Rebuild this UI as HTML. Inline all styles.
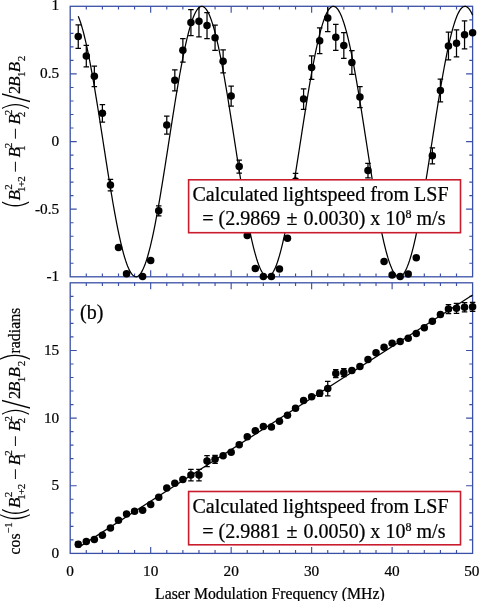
<!DOCTYPE html>
<html><head><meta charset="utf-8"><title>Lightspeed plot</title>
<style>
html,body{margin:0;padding:0;background:#fff;}
body{width:480px;height:601px;position:relative;overflow:hidden;font-family:"Liberation Serif",serif;color:#000;-webkit-text-stroke:0.22px #000;}
svg text{stroke:#000;stroke-width:0.2px;}
svg text.ns{stroke:none;}
.yt{position:absolute;left:0;width:59.2px;text-align:right;font-size:15.3px;line-height:20px;height:20px;margin-top:-0.5px;}
.xt{position:absolute;top:561px;width:40px;text-align:center;font-size:15.3px;line-height:20px;}
.xl{position:absolute;left:68.4px;width:403px;top:583.6px;text-align:center;font-size:15.75px;line-height:20px;white-space:nowrap;}
.box{position:absolute;left:187.7px;width:273.6px;height:54px;font-size:20px;line-height:24px;white-space:nowrap;}
.box div{position:absolute;}
.box .l1{left:4.8px;top:2.7px;}
.box .l2{left:14.5px;top:27.2px;letter-spacing:0.02px;}
.box .pm{margin:0 1px 0 1.2px;}
.box sup{font-size:12px;line-height:0;vertical-align:7px;}
.plabel{position:absolute;left:80px;top:300px;font-size:20px;line-height:24px;}
</style></head><body>
<svg width="480" height="601" viewBox="0 0 480 601" style="position:absolute;left:0;top:0">
<rect x="70.2" y="6.3" width="402.40000000000003" height="270.5" fill="none" stroke="#3a50a7" stroke-width="1.3"/>
<path d="M86.30 6.3v3.3M86.30 276.8v-3.3M102.39 6.3v3.3M102.39 276.8v-3.3M118.49 6.3v3.3M118.49 276.8v-3.3M134.58 6.3v3.3M134.58 276.8v-3.3M150.68 6.3v6.5M150.68 276.8v-6.5M166.78 6.3v3.3M166.78 276.8v-3.3M182.87 6.3v3.3M182.87 276.8v-3.3M198.97 6.3v3.3M198.97 276.8v-3.3M215.06 6.3v3.3M215.06 276.8v-3.3M231.16 6.3v6.5M231.16 276.8v-6.5M247.26 6.3v3.3M247.26 276.8v-3.3M263.35 6.3v3.3M263.35 276.8v-3.3M279.45 6.3v3.3M279.45 276.8v-3.3M295.54 6.3v3.3M295.54 276.8v-3.3M311.64 6.3v6.5M311.64 276.8v-6.5M327.74 6.3v3.3M327.74 276.8v-3.3M343.83 6.3v3.3M343.83 276.8v-3.3M359.93 6.3v3.3M359.93 276.8v-3.3M376.02 6.3v3.3M376.02 276.8v-3.3M392.12 6.3v6.5M392.12 276.8v-6.5M408.22 6.3v3.3M408.22 276.8v-3.3M424.31 6.3v3.3M424.31 276.8v-3.3M440.41 6.3v3.3M440.41 276.8v-3.3M456.50 6.3v3.3M456.50 276.8v-3.3M70.2 19.82h3.3M472.6 19.82h-3.3M70.2 33.35h3.3M472.6 33.35h-3.3M70.2 46.88h3.3M472.6 46.88h-3.3M70.2 60.40h3.3M472.6 60.40h-3.3M70.2 73.92h6.5M472.6 73.92h-6.5M70.2 87.45h3.3M472.6 87.45h-3.3M70.2 100.97h3.3M472.6 100.97h-3.3M70.2 114.50h3.3M472.6 114.50h-3.3M70.2 128.03h3.3M472.6 128.03h-3.3M70.2 141.55h6.5M472.6 141.55h-6.5M70.2 155.08h3.3M472.6 155.08h-3.3M70.2 168.60h3.3M472.6 168.60h-3.3M70.2 182.12h3.3M472.6 182.12h-3.3M70.2 195.65h3.3M472.6 195.65h-3.3M70.2 209.18h6.5M472.6 209.18h-6.5M70.2 222.70h3.3M472.6 222.70h-3.3M70.2 236.23h3.3M472.6 236.23h-3.3M70.2 249.75h3.3M472.6 249.75h-3.3M70.2 263.28h3.3M472.6 263.28h-3.3" stroke="#3a50a7" stroke-width="1.15" fill="none"/>
<polyline points="78.25,16.16 79.23,18.69 80.22,21.49 81.21,24.55 82.19,27.87 83.18,31.45 84.16,35.27 85.15,39.32 86.14,43.60 87.12,48.10 88.11,52.80 89.09,57.70 90.08,62.79 91.06,68.05 92.05,73.48 93.04,79.05 94.02,84.76 95.01,90.60 95.99,96.56 96.98,102.61 97.97,108.75 98.95,114.96 99.94,121.23 100.92,127.54 101.91,133.89 102.90,140.25 103.88,146.62 104.87,152.97 105.85,159.30 106.84,165.59 107.82,171.83 108.81,178.00 109.80,184.09 110.78,190.08 111.77,195.97 112.75,201.73 113.74,207.37 114.73,212.85 115.71,218.18 116.70,223.34 117.68,228.32 118.67,233.11 119.65,237.69 120.64,242.06 121.63,246.21 122.61,250.12 123.60,253.80 124.58,257.22 125.57,260.39 126.56,263.30 127.54,265.94 128.53,268.30 129.51,270.38 130.50,272.17 131.49,273.68 132.47,274.89 133.46,275.81 134.44,276.43 135.43,276.75 136.41,276.77 137.40,276.49 138.39,275.92 139.37,275.04 140.36,273.87 141.34,272.41 142.33,270.65 143.32,268.61 144.30,266.29 145.29,263.69 146.27,260.83 147.26,257.69 148.25,254.30 149.23,250.66 150.22,246.78 151.20,242.67 152.19,238.33 153.17,233.77 154.16,229.02 155.15,224.07 156.13,218.93 157.12,213.63 158.10,208.16 159.09,202.55 160.08,196.80 161.06,190.93 162.05,184.95 163.03,178.87 164.02,172.71 165.01,166.48 165.99,160.20 166.98,153.88 167.96,147.53 168.95,141.16 169.93,134.80 170.92,128.45 171.91,122.13 172.89,115.85 173.88,109.63 174.86,103.48 175.85,97.41 176.84,91.45 177.82,85.59 178.81,79.86 179.79,74.26 180.78,68.82 181.77,63.53 182.75,58.42 183.74,53.49 184.72,48.76 185.71,44.23 186.69,39.92 187.68,35.83 188.67,31.98 189.65,28.37 190.64,25.01 191.62,21.91 192.61,19.07 193.60,16.51 194.58,14.22 195.57,12.22 196.55,10.50 197.54,9.07 198.53,7.93 199.51,7.10 200.50,6.56 201.48,6.31 202.47,6.37 203.45,6.73 204.44,7.39 205.43,8.34 206.41,9.59 207.40,11.13 208.38,12.96 209.37,15.07 210.36,17.47 211.34,20.14 212.33,23.08 213.31,26.28 214.30,29.74 215.29,33.44 216.27,37.39 217.26,41.56 218.24,45.96 219.23,50.57 220.21,55.38 221.20,60.38 222.19,65.56 223.17,70.91 224.16,76.42 225.14,82.07 226.13,87.85 227.12,93.75 228.10,99.76 229.09,105.85 230.07,112.03 231.06,118.28 232.05,124.57 233.03,130.91 234.02,137.26 235.00,143.63 235.99,149.99 236.97,156.33 237.96,162.64 238.95,168.91 239.93,175.11 240.92,181.24 241.90,187.28 242.89,193.22 243.88,199.04 244.86,204.74 245.85,210.30 246.83,215.70 247.82,220.94 248.81,226.01 249.79,230.89 250.78,235.56 251.76,240.04 252.75,244.29 253.73,248.31 254.72,252.10 255.71,255.65 256.69,258.94 257.68,261.97 258.66,264.73 259.65,267.23 260.64,269.44 261.62,271.37 262.61,273.01 263.59,274.36 264.58,275.42 265.57,276.18 266.55,276.64 267.54,276.80 268.52,276.66 269.51,276.23 270.49,275.49 271.48,274.46 272.47,273.13 273.45,271.51 274.44,269.61 275.42,267.42 276.41,264.95 277.40,262.21 278.38,259.20 279.37,255.93 280.35,252.40 281.34,248.63 282.33,244.63 283.31,240.39 284.30,235.94 285.28,231.27 286.27,226.41 287.25,221.36 288.24,216.14 289.23,210.74 290.21,205.20 291.20,199.51 292.18,193.70 293.17,187.77 294.16,181.73 295.14,175.61 296.13,169.42 297.11,163.16 298.10,156.85 299.09,150.51 300.07,144.15 301.06,137.78 302.04,131.42 303.03,125.09 304.01,118.79 305.00,112.54 305.99,106.36 306.97,100.25 307.96,94.24 308.94,88.33 309.93,82.53 310.92,76.87 311.90,71.35 312.89,65.99 313.87,60.80 314.86,55.78 315.85,50.95 316.83,46.33 317.82,41.91 318.80,37.72 319.79,33.76 320.77,30.03 321.76,26.55 322.75,23.33 323.73,20.37 324.72,17.68 325.70,15.26 326.69,13.12 327.68,11.27 328.66,9.70 329.65,8.43 330.63,7.45 331.62,6.77 332.61,6.39 333.59,6.31 334.58,6.52 335.56,7.04 336.55,7.86 337.53,8.97 338.52,10.37 339.51,12.07 340.49,14.05 341.48,16.31 342.46,18.85 343.45,21.67 344.44,24.75 345.42,28.08 346.41,31.67 347.39,35.51 348.38,39.58 349.37,43.87 350.35,48.38 351.34,53.10 352.32,58.01 353.31,63.11 354.29,68.38 355.28,73.81 356.27,79.40 357.25,85.12 358.24,90.96 359.22,96.92 360.21,102.98 361.20,109.12 362.18,115.34 363.17,121.61 364.15,127.93 365.14,134.28 366.12,140.64 367.11,147.01 368.10,153.36 369.08,159.69 370.07,165.97 371.05,172.21 372.04,178.37 373.03,184.46 374.01,190.44 375.00,196.32 375.98,202.08 376.97,207.71 377.96,213.18 378.94,218.50 379.93,223.65 380.91,228.62 381.90,233.39 382.88,237.96 383.87,242.32 384.86,246.45 385.84,250.36 386.83,254.02 387.81,257.43 388.80,260.58 389.79,263.47 390.77,266.09 391.76,268.43 392.74,270.50 393.73,272.28 394.72,273.76 395.70,274.96 396.69,275.86 397.67,276.46 398.66,276.76 399.64,276.76 400.63,276.47 401.62,275.87 402.60,274.98 403.59,273.79 404.57,272.31 405.56,270.54 406.55,268.48 407.53,266.14 408.52,263.53 409.50,260.64 410.49,257.49 411.48,254.09 412.46,250.43 413.45,246.54 414.43,242.41 415.42,238.06 416.40,233.49 417.39,228.72 418.38,223.76 419.36,218.61 420.35,213.30 421.33,207.82 422.32,202.20 423.31,196.44 424.29,190.56 425.28,184.58 426.26,178.50 427.25,172.33 428.24,166.10 429.22,159.82 430.21,153.49 431.19,147.14 432.18,140.77 433.16,134.41 434.15,128.06 435.14,121.74 436.12,115.47 437.11,109.25 438.09,103.11 439.08,97.05 440.07,91.09 441.05,85.24 442.04,79.51 443.02,73.93 444.01,68.49 445.00,63.21 445.98,58.11 446.97,53.19 447.95,48.47 448.94,43.96 449.92,39.66 450.91,35.59 451.90,31.75 452.88,28.16 453.87,24.81 454.85,21.73 455.84,18.91 456.83,16.36 457.81,14.09 458.80,12.10 459.78,10.40 460.77,8.99 461.76,7.87 462.74,7.05 463.73,6.53 464.71,6.31 465.70,6.39 466.68,6.76 467.67,7.44 468.66,8.41 469.64,9.67 470.63,11.23 471.61,13.08 472.60,15.21" fill="none" stroke="#000" stroke-width="1.25"/>
<path d="M78.25 24.75V48.25M75.50 24.75H81.00M75.50 48.25H81.00" stroke="#000" stroke-width="1.25" fill="none"/>
<circle cx="78.25" cy="36.50" r="3.75" fill="#000"/>
<path d="M86.30 45.25V66.75M83.55 45.25H89.05M83.55 66.75H89.05" stroke="#000" stroke-width="1.25" fill="none"/>
<circle cx="86.30" cy="56.00" r="3.75" fill="#000"/>
<path d="M94.34 66.00V86.50M91.59 66.00H97.09M91.59 86.50H97.09" stroke="#000" stroke-width="1.25" fill="none"/>
<circle cx="94.34" cy="76.25" r="3.75" fill="#000"/>
<path d="M102.39 104.50V122.00M99.64 104.50H105.14M99.64 122.00H105.14" stroke="#000" stroke-width="1.25" fill="none"/>
<circle cx="102.39" cy="113.25" r="3.75" fill="#000"/>
<path d="M110.44 179.25V190.75M107.69 179.25H113.19M107.69 190.75H113.19" stroke="#000" stroke-width="1.25" fill="none"/>
<circle cx="110.44" cy="185.00" r="3.75" fill="#000"/>
<circle cx="118.49" cy="247.50" r="3.75" fill="#000"/>
<circle cx="126.54" cy="273.75" r="3.75" fill="#000"/>
<circle cx="142.63" cy="276.50" r="3.75" fill="#000"/>
<circle cx="150.68" cy="260.50" r="3.75" fill="#000"/>
<path d="M158.73 205.75V215.75M155.98 205.75H161.48M155.98 215.75H161.48" stroke="#000" stroke-width="1.25" fill="none"/>
<circle cx="158.73" cy="210.75" r="3.75" fill="#000"/>
<path d="M166.78 116.00V134.00M164.03 116.00H169.53M164.03 134.00H169.53" stroke="#000" stroke-width="1.25" fill="none"/>
<circle cx="166.78" cy="125.00" r="3.75" fill="#000"/>
<path d="M174.82 69.75V90.75M172.07 69.75H177.57M172.07 90.75H177.57" stroke="#000" stroke-width="1.25" fill="none"/>
<circle cx="174.82" cy="80.25" r="3.75" fill="#000"/>
<path d="M182.87 38.50V62.00M180.12 38.50H185.62M180.12 62.00H185.62" stroke="#000" stroke-width="1.25" fill="none"/>
<circle cx="182.87" cy="50.25" r="3.75" fill="#000"/>
<path d="M190.92 9.50V35.50M188.17 9.50H193.67M188.17 35.50H193.67" stroke="#000" stroke-width="1.25" fill="none"/>
<circle cx="190.92" cy="22.50" r="3.75" fill="#000"/>
<path d="M198.97 6.90V36.75M196.22 36.75H201.72" stroke="#000" stroke-width="1.25" fill="none"/>
<circle cx="198.97" cy="21.25" r="3.75" fill="#000"/>
<path d="M207.02 12.50V38.50M204.27 12.50H209.77M204.27 38.50H209.77" stroke="#000" stroke-width="1.25" fill="none"/>
<circle cx="207.02" cy="25.50" r="3.75" fill="#000"/>
<path d="M215.06 25.15V50.35M212.31 25.15H217.81M212.31 50.35H217.81" stroke="#000" stroke-width="1.25" fill="none"/>
<circle cx="215.06" cy="37.75" r="3.75" fill="#000"/>
<path d="M223.11 49.75V72.75M220.36 49.75H225.86M220.36 72.75H225.86" stroke="#000" stroke-width="1.25" fill="none"/>
<circle cx="223.11" cy="61.25" r="3.75" fill="#000"/>
<path d="M231.16 86.00V106.00M228.41 86.00H233.91M228.41 106.00H233.91" stroke="#000" stroke-width="1.25" fill="none"/>
<circle cx="231.16" cy="96.00" r="3.75" fill="#000"/>
<path d="M239.21 160.00V173.00M236.46 160.00H241.96M236.46 173.00H241.96" stroke="#000" stroke-width="1.25" fill="none"/>
<circle cx="239.21" cy="166.50" r="3.75" fill="#000"/>
<circle cx="247.26" cy="235.50" r="3.75" fill="#000"/>
<circle cx="255.30" cy="268.50" r="3.75" fill="#000"/>
<circle cx="263.35" cy="276.50" r="3.75" fill="#000"/>
<circle cx="271.40" cy="276.50" r="3.75" fill="#000"/>
<circle cx="279.45" cy="269.00" r="3.75" fill="#000"/>
<circle cx="287.50" cy="238.25" r="3.75" fill="#000"/>
<path d="M295.54 173.30V188.70M292.79 173.30H298.29M292.79 188.70H298.29" stroke="#000" stroke-width="1.25" fill="none"/>
<circle cx="295.54" cy="181.00" r="3.75" fill="#000"/>
<path d="M303.59 88.75V109.25M300.84 88.75H306.34M300.84 109.25H306.34" stroke="#000" stroke-width="1.25" fill="none"/>
<circle cx="303.59" cy="99.00" r="3.75" fill="#000"/>
<path d="M311.64 55.75V79.25M308.89 55.75H314.39M308.89 79.25H314.39" stroke="#000" stroke-width="1.25" fill="none"/>
<circle cx="311.64" cy="67.50" r="3.75" fill="#000"/>
<path d="M319.69 27.85V53.65M316.94 27.85H322.44M316.94 53.65H322.44" stroke="#000" stroke-width="1.25" fill="none"/>
<circle cx="319.69" cy="40.75" r="3.75" fill="#000"/>
<path d="M327.74 6.90V31.50M324.99 31.50H330.49" stroke="#000" stroke-width="1.25" fill="none"/>
<circle cx="327.74" cy="18.00" r="3.75" fill="#000"/>
<path d="M335.78 24.25V50.25M333.03 24.25H338.53M333.03 50.25H338.53" stroke="#000" stroke-width="1.25" fill="none"/>
<circle cx="335.78" cy="37.25" r="3.75" fill="#000"/>
<path d="M343.83 32.60V58.40M341.08 32.60H346.58M341.08 58.40H346.58" stroke="#000" stroke-width="1.25" fill="none"/>
<circle cx="343.83" cy="45.50" r="3.75" fill="#000"/>
<path d="M351.88 50.60V74.40M349.13 50.60H354.63M349.13 74.40H354.63" stroke="#000" stroke-width="1.25" fill="none"/>
<circle cx="351.88" cy="62.50" r="3.75" fill="#000"/>
<path d="M359.93 86.50V107.50M357.18 86.50H362.68M357.18 107.50H362.68" stroke="#000" stroke-width="1.25" fill="none"/>
<circle cx="359.93" cy="97.00" r="3.75" fill="#000"/>
<path d="M367.98 163.25V177.75M365.23 163.25H370.73M365.23 177.75H370.73" stroke="#000" stroke-width="1.25" fill="none"/>
<circle cx="367.98" cy="170.50" r="3.75" fill="#000"/>
<path d="M376.02 211.00V219.00M373.27 211.00H378.77M373.27 219.00H378.77" stroke="#000" stroke-width="1.25" fill="none"/>
<circle cx="376.02" cy="215.00" r="3.75" fill="#000"/>
<circle cx="384.07" cy="261.50" r="3.75" fill="#000"/>
<circle cx="392.12" cy="275.00" r="3.75" fill="#000"/>
<circle cx="400.17" cy="276.50" r="3.75" fill="#000"/>
<circle cx="408.22" cy="274.00" r="3.75" fill="#000"/>
<circle cx="416.26" cy="257.75" r="3.75" fill="#000"/>
<path d="M424.31 200.00V210.00M421.56 200.00H427.06M421.56 210.00H427.06" stroke="#000" stroke-width="1.25" fill="none"/>
<circle cx="424.31" cy="205.00" r="3.75" fill="#000"/>
<path d="M432.36 147.75V163.75M429.61 147.75H435.11M429.61 163.75H435.11" stroke="#000" stroke-width="1.25" fill="none"/>
<circle cx="432.36" cy="155.75" r="3.75" fill="#000"/>
<path d="M440.41 79.10V101.90M437.66 79.10H443.16M437.66 101.90H443.16" stroke="#000" stroke-width="1.25" fill="none"/>
<circle cx="440.41" cy="90.50" r="3.75" fill="#000"/>
<path d="M448.46 32.10V59.90M445.71 32.10H451.21M445.71 59.90H451.21" stroke="#000" stroke-width="1.25" fill="none"/>
<circle cx="448.46" cy="46.00" r="3.75" fill="#000"/>
<path d="M456.50 29.75V56.75M453.75 29.75H459.25M453.75 56.75H459.25" stroke="#000" stroke-width="1.25" fill="none"/>
<circle cx="456.50" cy="43.25" r="3.75" fill="#000"/>
<path d="M464.55 20.75V48.75M461.80 20.75H467.30M461.80 48.75H467.30" stroke="#000" stroke-width="1.25" fill="none"/>
<circle cx="464.55" cy="34.75" r="3.75" fill="#000"/>
<circle cx="472.60" cy="32.75" r="3.75" fill="#000"/>
<rect x="70.2" y="282.8" width="402.40000000000003" height="270.59999999999997" fill="none" stroke="#3a50a7" stroke-width="1.3"/>
<path d="M86.30 282.8v3.3M86.30 553.4v-3.3M102.39 282.8v3.3M102.39 553.4v-3.3M118.49 282.8v3.3M118.49 553.4v-3.3M134.58 282.8v3.3M134.58 553.4v-3.3M150.68 282.8v6.5M150.68 553.4v-6.5M166.78 282.8v3.3M166.78 553.4v-3.3M182.87 282.8v3.3M182.87 553.4v-3.3M198.97 282.8v3.3M198.97 553.4v-3.3M215.06 282.8v3.3M215.06 553.4v-3.3M231.16 282.8v6.5M231.16 553.4v-6.5M247.26 282.8v3.3M247.26 553.4v-3.3M263.35 282.8v3.3M263.35 553.4v-3.3M279.45 282.8v3.3M279.45 553.4v-3.3M295.54 282.8v3.3M295.54 553.4v-3.3M311.64 282.8v6.5M311.64 553.4v-6.5M327.74 282.8v3.3M327.74 553.4v-3.3M343.83 282.8v3.3M343.83 553.4v-3.3M359.93 282.8v3.3M359.93 553.4v-3.3M376.02 282.8v3.3M376.02 553.4v-3.3M392.12 282.8v6.5M392.12 553.4v-6.5M408.22 282.8v3.3M408.22 553.4v-3.3M424.31 282.8v3.3M424.31 553.4v-3.3M440.41 282.8v3.3M440.41 553.4v-3.3M456.50 282.8v3.3M456.50 553.4v-3.3M70.2 296.33h3.3M472.6 296.33h-3.3M70.2 309.86h3.3M472.6 309.86h-3.3M70.2 323.39h3.3M472.6 323.39h-3.3M70.2 336.92h3.3M472.6 336.92h-3.3M70.2 350.45h6.5M472.6 350.45h-6.5M70.2 363.98h3.3M472.6 363.98h-3.3M70.2 377.51h3.3M472.6 377.51h-3.3M70.2 391.04h3.3M472.6 391.04h-3.3M70.2 404.57h3.3M472.6 404.57h-3.3M70.2 418.10h6.5M472.6 418.10h-6.5M70.2 431.63h3.3M472.6 431.63h-3.3M70.2 445.16h3.3M472.6 445.16h-3.3M70.2 458.69h3.3M472.6 458.69h-3.3M70.2 472.22h3.3M472.6 472.22h-3.3M70.2 485.75h6.5M472.6 485.75h-6.5M70.2 499.28h3.3M472.6 499.28h-3.3M70.2 512.81h3.3M472.6 512.81h-3.3M70.2 526.34h3.3M472.6 526.34h-3.3M70.2 539.87h3.3M472.6 539.87h-3.3" stroke="#3a50a7" stroke-width="1.15" fill="none"/>
<line x1="78.25" y1="547.6" x2="472.60" y2="295" stroke="#000" stroke-width="1.25"/>
<path d="M78.25 541.75V546.75M75.50 541.75H81.00M75.50 546.75H81.00" stroke="#000" stroke-width="1.25" fill="none"/>
<circle cx="78.25" cy="544.25" r="3.75" fill="#000"/>
<circle cx="86.30" cy="541.50" r="3.75" fill="#000"/>
<circle cx="94.34" cy="539.50" r="3.75" fill="#000"/>
<circle cx="102.39" cy="535.25" r="3.75" fill="#000"/>
<circle cx="110.44" cy="528.00" r="3.75" fill="#000"/>
<circle cx="118.49" cy="520.25" r="3.75" fill="#000"/>
<circle cx="126.54" cy="514.00" r="3.75" fill="#000"/>
<circle cx="134.58" cy="511.25" r="3.75" fill="#000"/>
<circle cx="142.63" cy="510.25" r="3.75" fill="#000"/>
<circle cx="150.68" cy="504.50" r="3.75" fill="#000"/>
<circle cx="158.73" cy="497.25" r="3.75" fill="#000"/>
<circle cx="166.78" cy="488.00" r="3.75" fill="#000"/>
<circle cx="174.82" cy="483.25" r="3.75" fill="#000"/>
<circle cx="182.87" cy="479.50" r="3.75" fill="#000"/>
<path d="M190.92 469.25V480.75M188.17 469.25H193.67M188.17 480.75H193.67" stroke="#000" stroke-width="1.25" fill="none"/>
<circle cx="190.92" cy="475.00" r="3.75" fill="#000"/>
<path d="M198.97 469.25V480.75M196.22 469.25H201.72M196.22 480.75H201.72" stroke="#000" stroke-width="1.25" fill="none"/>
<circle cx="198.97" cy="475.00" r="3.75" fill="#000"/>
<path d="M207.02 455.50V466.50M204.27 455.50H209.77M204.27 466.50H209.77" stroke="#000" stroke-width="1.25" fill="none"/>
<circle cx="207.02" cy="461.00" r="3.75" fill="#000"/>
<path d="M215.06 455.25V463.25M212.31 455.25H217.81M212.31 463.25H217.81" stroke="#000" stroke-width="1.25" fill="none"/>
<circle cx="215.06" cy="459.25" r="3.75" fill="#000"/>
<circle cx="223.11" cy="455.75" r="3.75" fill="#000"/>
<circle cx="231.16" cy="452.25" r="3.75" fill="#000"/>
<circle cx="239.21" cy="444.75" r="3.75" fill="#000"/>
<circle cx="247.26" cy="436.75" r="3.75" fill="#000"/>
<circle cx="255.30" cy="430.75" r="3.75" fill="#000"/>
<circle cx="263.35" cy="426.60" r="3.75" fill="#000"/>
<circle cx="271.40" cy="426.90" r="3.75" fill="#000"/>
<circle cx="279.45" cy="421.30" r="3.75" fill="#000"/>
<circle cx="287.50" cy="415.25" r="3.75" fill="#000"/>
<circle cx="295.54" cy="408.25" r="3.75" fill="#000"/>
<circle cx="303.59" cy="400.50" r="3.75" fill="#000"/>
<circle cx="311.64" cy="396.75" r="3.75" fill="#000"/>
<path d="M319.69 390.25V396.25M316.94 390.25H322.44M316.94 396.25H322.44" stroke="#000" stroke-width="1.25" fill="none"/>
<circle cx="319.69" cy="393.25" r="3.75" fill="#000"/>
<path d="M327.74 381.25V395.75M324.99 381.25H330.49M324.99 395.75H330.49" stroke="#000" stroke-width="1.25" fill="none"/>
<circle cx="327.74" cy="388.50" r="3.75" fill="#000"/>
<path d="M335.78 369.50V377.50M333.03 369.50H338.53M333.03 377.50H338.53" stroke="#000" stroke-width="1.25" fill="none"/>
<circle cx="335.78" cy="373.50" r="3.75" fill="#000"/>
<path d="M343.83 368.50V376.50M341.08 368.50H346.58M341.08 376.50H346.58" stroke="#000" stroke-width="1.25" fill="none"/>
<circle cx="343.83" cy="372.50" r="3.75" fill="#000"/>
<circle cx="351.88" cy="370.50" r="3.75" fill="#000"/>
<circle cx="359.93" cy="366.50" r="3.75" fill="#000"/>
<circle cx="367.98" cy="359.40" r="3.75" fill="#000"/>
<circle cx="376.02" cy="352.75" r="3.75" fill="#000"/>
<circle cx="384.07" cy="347.25" r="3.75" fill="#000"/>
<circle cx="392.12" cy="343.25" r="3.75" fill="#000"/>
<circle cx="400.17" cy="341.50" r="3.75" fill="#000"/>
<circle cx="408.22" cy="338.25" r="3.75" fill="#000"/>
<circle cx="416.26" cy="333.50" r="3.75" fill="#000"/>
<circle cx="424.31" cy="327.75" r="3.75" fill="#000"/>
<circle cx="432.36" cy="321.25" r="3.75" fill="#000"/>
<circle cx="440.41" cy="314.50" r="3.75" fill="#000"/>
<path d="M448.46 304.50V313.50M445.71 304.50H451.21M445.71 313.50H451.21" stroke="#000" stroke-width="1.25" fill="none"/>
<circle cx="448.46" cy="309.00" r="3.75" fill="#000"/>
<path d="M456.50 303.25V313.25M453.75 303.25H459.25M453.75 313.25H459.25" stroke="#000" stroke-width="1.25" fill="none"/>
<circle cx="456.50" cy="308.25" r="3.75" fill="#000"/>
<path d="M464.55 302.55V311.95M461.80 302.55H467.30M461.80 311.95H467.30" stroke="#000" stroke-width="1.25" fill="none"/>
<circle cx="464.55" cy="307.25" r="3.75" fill="#000"/>
<path d="M472.60 302.25V311.25M469.85 302.25H475.35M469.85 311.25H475.35" stroke="#000" stroke-width="1.25" fill="none"/>
<circle cx="472.60" cy="306.75" r="3.75" fill="#000"/>
<rect x="188.6" y="179.8" width="271.9" height="52.9" fill="#fff" stroke="#c91d2d" stroke-width="1.6"/>
<rect x="188.6" y="491.5" width="271.9" height="53.3" fill="#fff" stroke="#c91d2d" stroke-width="1.6"/>
<g transform="translate(0,207) rotate(-90)" font-family="Liberation Serif, serif" fill="#000"><text transform="translate(-2.40,24.50) scale(0.9,1)" font-size="31" class="ns" font-family="DejaVu Sans Light, DejaVu Sans, sans-serif" font-weight="200">(</text>
<text x="6.60" y="19.60" font-size="17" font-style="italic">B</text>
<text x="17.30" y="12.40" font-size="11">2</text>
<text x="14.90" y="25.40" font-size="11">1</text>
<text x="19.90" y="25.40" font-size="11">+</text>
<text x="25.30" y="25.40" font-size="11">2</text>
<text transform="translate(34.60,21.20) scale(1.2,1)" font-size="17" class="st">−</text>
<text x="49.40" y="19.60" font-size="17" font-style="italic">B</text>
<text x="58.80" y="12.40" font-size="11">2</text>
<text x="55.90" y="25.40" font-size="11">1</text>
<text transform="translate(67.60,21.20) scale(1.2,1)" font-size="17" class="st">−</text>
<text x="82.40" y="19.60" font-size="17" font-style="italic">B</text>
<text x="91.80" y="12.40" font-size="11">2</text>
<text x="89.80" y="25.40" font-size="11">2</text>
<text transform="translate(94.90,24.50) scale(0.9,1)" font-size="31" class="ns" font-family="DejaVu Sans Light, DejaVu Sans, sans-serif" font-weight="200">)</text>
<text transform="translate(104.20,26.80) scale(0.85,1)" font-size="34.5" class="ns" font-family="DejaVu Sans Light, DejaVu Sans, sans-serif" font-weight="200">/</text>
<text x="113.00" y="20.30" font-size="16.3">2</text>
<text x="120.20" y="20.40" font-size="17" font-style="italic">B</text>
<text x="129.90" y="25.40" font-size="11">1</text>
<text x="134.70" y="20.40" font-size="17" font-style="italic">B</text>
<text x="145.80" y="25.40" font-size="11">2</text></g>
<g transform="translate(0,554.6) rotate(-90)" font-family="Liberation Serif, serif" fill="#000"><text x="0.20" y="20.00" font-size="15.7">cos</text>
<text transform="translate(21.40,12.00) scale(0.9,1)" font-size="11" class="st">−</text>
<text x="26.80" y="12.00" font-size="11">1</text>
<text transform="translate(32.30,26.00) scale(0.82,1)" font-size="34.5" class="ns" font-family="DejaVu Sans Light, DejaVu Sans, sans-serif" font-weight="200">(</text>
<g transform="translate(40,0)"><text transform="translate(-2.40,24.50) scale(0.9,1)" font-size="31" class="ns" font-family="DejaVu Sans Light, DejaVu Sans, sans-serif" font-weight="200">(</text>
<text x="6.60" y="19.60" font-size="17" font-style="italic">B</text>
<text x="17.30" y="12.40" font-size="11">2</text>
<text x="14.90" y="25.40" font-size="11">1</text>
<text x="19.90" y="25.40" font-size="11">+</text>
<text x="25.30" y="25.40" font-size="11">2</text>
<text transform="translate(34.60,21.20) scale(1.2,1)" font-size="17" class="st">−</text>
<text x="49.40" y="19.60" font-size="17" font-style="italic">B</text>
<text x="58.80" y="12.40" font-size="11">2</text>
<text x="55.90" y="25.40" font-size="11">1</text>
<text transform="translate(67.60,21.20) scale(1.2,1)" font-size="17" class="st">−</text>
<text x="83.40" y="19.60" font-size="17" font-style="italic">B</text>
<text x="93.10" y="12.40" font-size="11">2</text>
<text x="91.10" y="25.40" font-size="11">2</text>
<text transform="translate(96.90,24.50) scale(0.9,1)" font-size="31" class="ns" font-family="DejaVu Sans Light, DejaVu Sans, sans-serif" font-weight="200">)</text>
<text transform="translate(105.45,26.80) scale(0.85,1)" font-size="34.5" class="ns" font-family="DejaVu Sans Light, DejaVu Sans, sans-serif" font-weight="200">/</text>
<text x="115.50" y="20.30" font-size="16.3">2</text>
<text x="122.70" y="20.40" font-size="17" font-style="italic">B</text>
<text x="132.40" y="25.40" font-size="11">1</text>
<text x="137.20" y="20.40" font-size="17" font-style="italic">B</text>
<text x="148.30" y="25.40" font-size="11">2</text></g>
<text transform="translate(191.80,26.00) scale(0.82,1)" font-size="34.5" class="ns" font-family="DejaVu Sans Light, DejaVu Sans, sans-serif" font-weight="200">)</text>
<text x="201.20" y="20.00" font-size="15.8">radians</text></g>
</svg>
<div class="yt" style="top:-4.20px">1</div>
<div class="yt" style="top:63.93px">0.5</div>
<div class="yt" style="top:131.55px">0</div>
<div class="yt" style="top:199.18px">-0.5</div>
<div class="yt" style="top:266.80px">-1</div>
<div class="yt" style="top:543.40px">0</div>
<div class="yt" style="top:475.75px">5</div>
<div class="yt" style="top:408.10px">10</div>
<div class="yt" style="top:340.45px">15</div>
<div class="xt" style="left:50.20px">0</div>
<div class="xt" style="left:130.68px">10</div>
<div class="xt" style="left:211.16px">20</div>
<div class="xt" style="left:291.64px">30</div>
<div class="xt" style="left:372.12px">40</div>
<div class="xt" style="left:451.80px">50</div>
<div class="xl">Laser Modulation Frequency (MHz)</div>
<div class="plabel">(b)</div>
<div class="box" id="box1" style="top:179.2px;"><div class="l1">Calculated lightspeed from LSF</div><div class="l2">= (2.9869 <span class="pm">±</span> 0.0030) x 10<sup>8</sup> m/s</div></div>
<div class="box" id="box2" style="top:491.5px;"><div class="l1">Calculated lightspeed from LSF</div><div class="l2">= (2.9881 <span class="pm">±</span> 0.0050) x 10<sup>8</sup> m/s</div></div>
</body></html>
